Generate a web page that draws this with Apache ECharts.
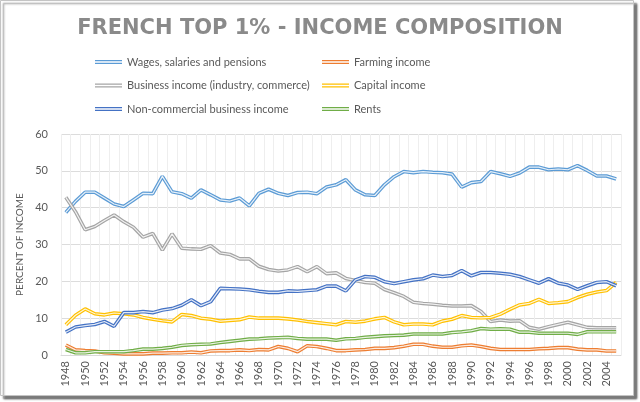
<!DOCTYPE html>
<html>
<head>
<meta charset="utf-8">
<script src="https://cdn.jsdelivr.net/npm/echarts@6/dist/echarts.min.js"></script>
<style>
  html, body { margin: 0; padding: 0; background: #fff; }
  #c_container { width: 640px; height: 402px; }
</style>
</head>
<body>
<div id="c_container"></div>
<script>
var years = ["1948","1949","1950","1951","1952","1953","1954","1955","1956","1957",
  "1958","1959","1960","1961","1962","1963","1964","1965","1966","1967",
  "1968","1969","1970","1971","1972","1973","1974","1975","1976","1977",
  "1978","1979","1980","1981","1982","1983","1984","1985","1986","1987",
  "1988","1989","1990","1991","1992","1993","1994","1995","1996","1997",
  "1998","1999","2000","2001","2002","2003","2004","2005"];

var seriesNames = [
  "Wages, salaries and pensions",
  "Farming income",
  "Business income (industry, commerce)",
  "Capital income",
  "Non-commercial business income",
  "Rents"
];
var colorList = ["#5b9bd5", "#ed7d31", "#a5a5a5", "#ffc000", "#4472c4", "#70ad47"];

var wages = [38.7,41.7,44.2,44.2,42.6,41.0,40.3,42.1,43.9,43.8,
  48.5,44.3,43.8,42.6,44.8,43.5,42.1,41.8,42.6,40.5,
  43.9,45.0,43.9,43.3,44.1,44.2,43.8,45.6,46.2,47.6,
  44.8,43.5,43.3,46.2,48.4,49.8,49.5,49.8,49.6,49.5,
  49.1,45.6,46.8,47.1,49.8,49.2,48.5,49.4,51.0,51.0,
  50.3,50.5,50.3,51.4,50.1,48.6,48.6,47.8];
var farming = [2.7,1.4,1.2,1.1,0.6,0.5,0.3,0.3,0.3,0.5,
  0.5,0.6,0.6,0.8,0.6,1.1,1.2,1.2,1.4,1.2,
  1.5,1.4,2.3,1.8,0.9,2.5,2.3,1.8,1.2,1.2,
  1.4,1.5,1.8,1.8,2.0,2.4,2.9,2.9,2.4,2.1,
  2.1,2.5,2.7,2.3,1.8,1.5,1.5,1.5,1.5,1.7,
  1.8,2.0,2.0,1.6,1.4,1.4,1.1,1.1];
var business = [42.8,38.9,34.0,34.9,36.5,38.0,36.2,34.7,32.0,33.0,
  28.5,32.9,29.0,28.8,28.7,29.7,27.7,27.3,26.1,26.1,
  24.1,23.2,22.8,23.1,24.0,22.6,24.0,22.1,22.3,20.8,
  20.2,19.7,19.5,17.8,16.9,15.9,14.3,14.0,13.8,13.5,
  13.3,13.3,13.4,11.8,9.1,9.5,9.2,9.3,7.5,7.0,
  7.7,8.3,8.9,8.2,7.5,7.4,7.4,7.4];
var capital = [8.2,10.8,12.5,11.2,10.9,11.4,11.2,10.9,10.2,9.7,
  9.3,9.0,11.0,10.7,10.0,9.7,9.2,9.4,9.6,10.3,
  10.0,10.0,10.0,9.8,9.5,9.1,8.8,8.5,8.2,9.1,
  8.9,9.2,9.8,10.2,9.0,8.2,8.4,8.4,8.2,9.2,
  9.7,10.7,10.2,10.1,10.2,11.1,12.4,13.6,14.0,15.1,
  14.0,14.2,14.5,15.6,16.5,17.1,17.5,19.7];
var nonCommercial = [6.2,7.6,8.0,8.3,9.1,7.8,11.5,11.5,11.8,11.5,
  12.2,12.6,13.5,15.0,13.4,14.5,18.1,18.0,17.9,17.7,
  17.3,17.0,17.0,17.4,17.3,17.5,17.7,18.7,18.7,17.4,
  20.4,21.3,21.1,19.9,19.4,19.9,20.4,20.7,21.7,21.3,
  21.6,22.9,21.5,22.4,22.4,22.2,21.9,21.3,20.4,19.5,
  20.7,19.5,19.0,17.8,18.8,19.7,19.9,18.8];
var rents = [1.5,0.6,0.6,0.9,0.9,0.9,0.9,1.2,1.6,1.6,
  1.8,2.1,2.6,2.8,2.9,3.0,3.4,3.7,4.0,4.3,
  4.4,4.6,4.7,4.8,4.5,4.3,4.3,4.3,4.0,4.4,
  4.5,4.8,5.0,5.2,5.3,5.4,5.7,5.7,5.7,5.7,
  6.1,6.3,6.6,7.2,7.0,7.1,7.0,6.2,6.2,5.9,
  5.9,5.9,5.9,5.6,6.3,6.3,6.3,6.3];

var allData = [wages, farming, business, capital, nonCommercial, rents];
var yTicks = { min: 0, max: 60, interval: 10 };

// excel style "double" line: coloured stroke with a light core on top
var series = [];
for (var k = 0; k < seriesNames.length; k++) {
  series.push({
    name: seriesNames[k],
    type: "line",
    symbol: "none",
    silent: true,
    data: allData[k],
    itemStyle: { color: colorList[k] },
    lineStyle: { width: 3.6, color: colorList[k] }
  });
  series.push({
    name: seriesNames[k] + "_core",
    type: "line",
    symbol: "none",
    silent: true,
    data: allData[k],
    lineStyle: { width: 1.2, color: "rgba(255,255,255,0.85)" }
  });
}

var legendIcon = "path://M0,0L27,0L27,1.2L0,1.2Z M0,2.6L27,2.6L27,3.8L0,3.8Z";
var legendText = { color: "#595959", fontSize: 11, fontFamily: "Lato", lineHeight: 14 };

var myChart = echarts.init(document.getElementById("c_container"));
myChart.setOption({
  animation: false,
  color: colorList,
  graphic: [
    {
      type: "rect",
      z: -10,
      silent: true,
      shape: { x: 0.5, y: 0.5, width: 633, height: 395 },
      style: {
        fill: "#fff",
        stroke: "#c4c4c4",
        lineWidth: 1,
        shadowBlur: 2,
        shadowOffsetX: 3,
        shadowOffsetY: 3,
        shadowColor: "rgba(0,0,0,0.5)"
      }
    }
  ],
  title: {
    text: "FRENCH TOP 1% - INCOME COMPOSITION",
    left: "center",
    top: 13,
    textStyle: { fontFamily: "DejaVu Sans", fontSize: 21, fontWeight: 600, color: "#8a8a8a" }
  },
  legend: [
    {
      data: [seriesNames[0], seriesNames[2], seriesNames[4]],
      orient: "vertical",
      left: 90,
      top: 50,
      itemGap: 9.5,
      itemWidth: 27,
      itemHeight: 4,
      icon: legendIcon,
      itemStyle: { borderWidth: 0 },
      textStyle: legendText
    },
    {
      data: [seriesNames[1], seriesNames[3], seriesNames[5]],
      orient: "vertical",
      left: 317,
      top: 50,
      itemGap: 9.5,
      itemWidth: 27,
      itemHeight: 4,
      icon: legendIcon,
      itemStyle: { borderWidth: 0 },
      textStyle: legendText
    }
  ],
  grid: { left: 61, right: 19, top: 134, bottom: 47 },
  xAxis: {
    type: "category",
    data: years,
    boundaryGap: true,
    axisLine: { lineStyle: { color: "#d9d9d9" } },
    axisTick: { show: false, interval: 0 },
    splitLine: { show: true, interval: 0, lineStyle: { color: "#eeeeee" } },
    axisLabel: {
      interval: 1,
      rotate: 90,
      margin: 6,
      color: "#595959",
      fontSize: 11,
      fontFamily: "Lato"
    }
  },
  yAxis: {
    type: "value",
    min: yTicks.min,
    max: yTicks.max,
    interval: yTicks.interval,
    name: "PERCENT OF INCOME",
    nameLocation: "middle",
    nameGap: 32,
    nameTextStyle: { color: "#595959", fontSize: 10, fontFamily: "Lato" },
    axisLine: { show: false },
    axisTick: { show: false },
    splitLine: { lineStyle: { color: "#dcdcdc" } },
    axisLabel: { color: "#595959", fontSize: 11, fontFamily: "Lato", margin: 13 }
  },
  series: series
});
</script>
</body>
</html>
